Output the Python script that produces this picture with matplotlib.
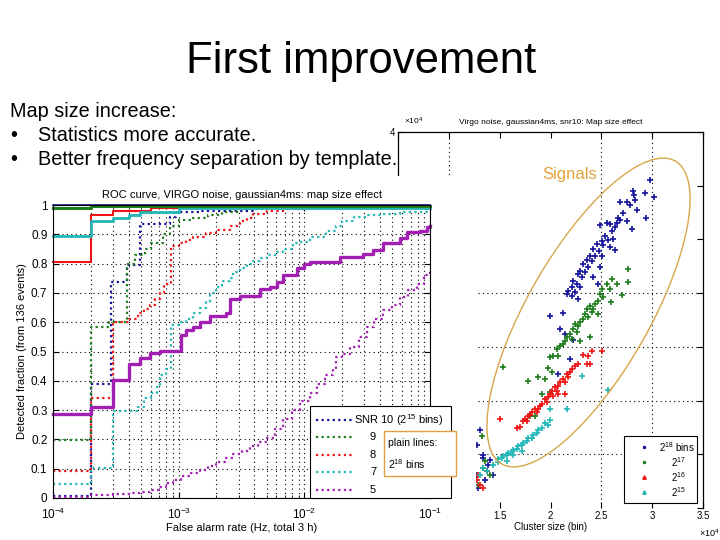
import numpy as np
import matplotlib
matplotlib.use('Agg')
import matplotlib.pyplot as plt
from matplotlib.lines import Line2D
from matplotlib.patches import Rectangle, Ellipse
from matplotlib.transforms import IdentityTransform
from matplotlib.ticker import FuncFormatter, LogLocator, NullFormatter

plt.rcParams['font.family'] = ['Liberation Sans', 'DejaVu Sans']
plt.rcParams['mathtext.fontset'] = 'custom'
plt.rcParams['mathtext.rm'] = 'Liberation Sans'
plt.rcParams['mathtext.it'] = 'Liberation Sans:italic'
plt.rcParams['mathtext.bf'] = 'Liberation Sans:bold'

# ---------------- ROC data (false alarm rate [Hz], detected fraction) -----------
roc_labels = ['SNR 10 (2$^{15}$ bins)', '9', '8', '7', '5']

far_10d = [1e-4, 2.0e-4, 2.9e-4, 3.9e-4, 4.9e-4, 8.5e-4, 9.5e-4, 1.5e-3, 4.0e-3, 1e-1]
det_10d = [0.006, 0.39, 0.737, 0.795, 0.935, 0.96, 0.975, 0.98, 1.0, 1.0]

far_9d = [1e-4, 2.0e-4, 2.8e-4, 3.9e-4, 4.5e-4, 5.4e-4, 6.0e-4, 7.5e-4, 8.5e-4, 1.0e-3,
          1.3e-3, 1.7e-3, 2.2e-3, 3.0e-3, 5.0e-3, 1e-1]
det_9d = [0.198, 0.583, 0.60, 0.80, 0.83, 0.85, 0.87, 0.90, 0.93, 0.95,
          0.955, 0.965, 0.975, 0.985, 0.995, 0.995]

far_8d = [1e-4, 2.0e-4, 3.0e-4, 4.0e-4, 4.75e-4, 5.3e-4, 5.9e-4, 6.5e-4, 7.1e-4, 7.7e-4,
          8.76e-4, 1.0e-3, 1.15e-3, 1.3e-3, 1.66e-3, 2.0e-3, 2.55e-3, 3.07e-3, 3.47e-3,
          3.91e-3, 5.0e-3, 6.79e-3, 1.0e-2, 2.0e-2, 1e-1]
det_8d = [0.091, 0.34, 0.60, 0.61, 0.63, 0.645, 0.66, 0.68, 0.70, 0.73,
          0.86, 0.87, 0.88, 0.89, 0.905, 0.915, 0.93, 0.945, 0.955,
          0.97, 0.98, 0.985, 0.99, 0.995, 0.995]

far_7d = [1e-4, 2e-4, 3e-4, 4.75e-4, 5.3e-4, 6.0e-4, 6.7e-4, 7.1e-4, 8.0e-4, 8.76e-4,
          1.05e-3, 1.15e-3, 1.3e-3, 1.47e-3, 1.66e-3, 1.77e-3, 2.0e-3, 2.2e-3, 2.55e-3, 2.71e-3,
          3.07e-3, 3.47e-3, 3.91e-3, 4.42e-3, 5.0e-3, 6.01e-3, 6.79e-3, 8.15e-3, 9.21e-3, 1.11e-2,
          1.5e-2, 1.8e-2, 2.0e-2, 2.5e-2, 3.13e-2, 4.25e-2, 5.77e-2, 1e-1]
det_7d = [0.048, 0.103, 0.297, 0.309, 0.34, 0.36, 0.38, 0.42, 0.44, 0.59,
          0.60, 0.61, 0.63, 0.65, 0.67, 0.70, 0.72, 0.74, 0.75, 0.77,
          0.785, 0.80, 0.81, 0.82, 0.83, 0.84, 0.85, 0.87, 0.875, 0.89,
          0.91, 0.93, 0.945, 0.96, 0.965, 0.97, 0.975, 0.975]

far_5d = [1e-4, 2e-4, 3e-4, 4e-4, 5e-4, 5.9e-4, 7e-4, 8e-4, 9e-4, 1.05e-3,
          1.25e-3, 1.47e-3, 1.7e-3, 2e-3, 2.35e-3, 2.71e-3, 3.2e-3, 3.68e-3, 4.3e-3, 5e-3,
          5.8e-3, 6.79e-3, 8e-3, 9.21e-3, 1.1e-2, 1.25e-2, 1.45e-2, 1.7e-2, 1.8e-2, 2e-2,
          2.31e-2, 2.7e-2, 3.13e-2, 3.6e-2, 4.25e-2, 5e-2, 5.77e-2, 6.7e-2, 7.83e-2, 9e-2, 1e-1]
det_5d = [0.005, 0.010, 0.012, 0.017, 0.022, 0.029, 0.036, 0.051, 0.06, 0.074,
          0.085, 0.097, 0.110, 0.123, 0.136, 0.149, 0.162, 0.177, 0.19, 0.206,
          0.235, 0.269, 0.30, 0.331, 0.36, 0.389, 0.42, 0.44, 0.48, 0.49,
          0.514, 0.55, 0.583, 0.61, 0.640, 0.66, 0.686, 0.71, 0.731, 0.76, 0.783]

far_10s = [1e-4, 1e-1]
det_10s = [1.0, 1.0]
far_9s = [1e-4, 2.0e-4, 1e-1]
det_9s = [0.991, 0.996, 0.996]
far_8s = [1e-4, 2.0e-4, 3.0e-4, 6.0e-4, 1e-1]
det_8s = [0.806, 0.965, 0.98, 0.99, 0.99]
far_7s = [1e-4, 2e-4, 3e-4, 4e-4, 4.9e-4, 1.0e-3, 1e-1]
det_7s = [0.895, 0.945, 0.955, 0.965, 0.975, 0.99, 0.99]
far_5s = [1e-4, 2.0e-4, 3.0e-4, 4.0e-4, 4.9e-4, 5.9e-4, 7.1e-4, 1.05e-3, 1.15e-3, 1.30e-3,
          1.47e-3, 1.77e-3, 2.40e-3, 2.55e-3, 3.07e-3, 4.16e-3, 4.42e-3, 5.32e-3, 6.01e-3, 6.79e-3,
          8.15e-3, 8.67e-3, 1.0e-2, 1.11e-2, 1.80e-2, 1.92e-2, 2.94e-2, 3.53e-2, 4.25e-2, 5.10e-2,
          5.77e-2, 6.52e-2, 8.32e-2, 9.40e-2, 1e-1]
det_5s = [0.288, 0.312, 0.403, 0.457, 0.477, 0.494, 0.503, 0.558, 0.575, 0.585,
          0.600, 0.620, 0.630, 0.680, 0.690, 0.690, 0.714, 0.720, 0.737, 0.760,
          0.760, 0.786, 0.800, 0.806, 0.806, 0.823, 0.834, 0.848, 0.869, 0.869,
          0.886, 0.909, 0.912, 0.926, 0.930]

roc_yticks = [0, 0.1, 0.2, 0.3, 0.4, 0.5, 0.6, 0.7, 0.8, 0.9, 1.0]

# ---------------- Scatter data (units of 1e4 bins) --------------------------
sc_labels = ['2$^{18}$ bins', '2$^{17}$', '2$^{16}$', '2$^{15}$']
blue_x = [2.978, 2.929, 3.017, 2.811, 2.821, 2.683, 2.752, 2.781, 2.830, 2.712,
          2.850, 2.939, 2.663, 2.683, 2.752, 2.653, 2.801, 2.585, 2.555, 2.486,
          2.634, 2.604, 2.535, 2.565, 2.506, 2.614, 2.457, 2.516, 2.585, 2.634,
          2.417, 2.476, 2.388, 2.437, 2.506, 2.358, 2.408, 2.319, 2.486, 2.368,
          2.290, 2.339, 2.270, 2.309, 2.417, 2.221, 2.260, 2.211, 2.290, 2.172,
          2.240, 2.162, 2.211, 2.270, 2.467, 1.995, 2.122, 2.093, 2.142, 2.221,
          2.073, 2.191, 1.306, 1.277, 1.336, 1.336, 1.385, 1.277, 1.405, 1.434,
          1.287, 1.355]
blue_y = [3.556, 3.435, 3.398, 3.454, 3.417, 3.352, 3.352, 3.324, 3.370, 3.250,
          3.278, 3.204, 3.204, 3.185, 3.176, 3.157, 3.093, 3.139, 3.157, 3.130,
          3.120, 3.074, 3.028, 2.991, 2.981, 3.000, 2.954, 2.944, 2.926, 2.898,
          2.907, 2.889, 2.843, 2.843, 2.843, 2.806, 2.796, 2.769, 2.741, 2.741,
          2.704, 2.694, 2.676, 2.648, 2.648, 2.611, 2.583, 2.556, 2.556, 2.519,
          2.509, 2.491, 2.472, 2.444, 2.583, 2.287, 2.315, 2.167, 2.120, 2.065,
          1.750, 1.889, 1.222, 1.083, 0.991, 0.963, 0.898, 0.806, 0.944, 0.806,
          0.685, 0.759]
green_x = [2.762, 2.762, 2.604, 2.555, 2.653, 2.585, 2.703, 2.506, 2.486, 2.516,
           2.467, 2.594, 2.437, 2.388, 2.417, 2.358, 2.408, 2.339, 2.368, 2.319,
           2.467, 2.290, 2.270, 2.240, 2.221, 2.260, 2.191, 2.162, 2.211, 2.142,
           2.388, 2.290, 2.122, 2.093, 2.063, 2.024, 1.995, 2.073, 1.975, 2.014,
           1.945, 1.877, 1.778, 1.532, 1.916, 1.995, 1.847, 1.798, 1.326, 1.355,
           1.405, 1.287, 1.336]
green_y = [2.722, 2.602, 2.630, 2.583, 2.583, 2.537, 2.481, 2.537, 2.491, 2.463,
           2.426, 2.417, 2.398, 2.380, 2.352, 2.352, 2.324, 2.306, 2.278, 2.259,
           2.306, 2.231, 2.194, 2.213, 2.167, 2.139, 2.120, 2.093, 2.074, 2.056,
           2.093, 2.056, 2.028, 2.009, 1.981, 1.917, 1.907, 1.917, 1.806, 1.769,
           1.704, 1.722, 1.685, 1.815, 1.565, 1.583, 1.352, 1.361, 1.167, 0.935,
           0.806, 0.713, 0.870]
red_x = [2.506, 2.408, 2.368, 2.319, 2.388, 2.358, 2.270, 2.240, 2.211, 2.191,
         2.162, 2.172, 2.122, 2.142, 2.093, 2.073, 2.044, 2.063, 2.014, 1.995,
         2.024, 1.975, 1.945, 1.965, 1.916, 1.896, 1.877, 1.847, 1.867, 1.818,
         1.798, 1.778, 1.749, 1.729, 1.768, 1.700, 2.142, 2.073, 1.503, 1.670,
         1.287, 1.306, 1.336, 1.277, 1.375]
red_y = [1.963, 1.963, 1.917, 1.926, 1.843, 1.843, 1.843, 1.824, 1.796, 1.769,
         1.750, 1.722, 1.704, 1.676, 1.676, 1.639, 1.630, 1.593, 1.593, 1.565,
         1.546, 1.537, 1.519, 1.491, 1.472, 1.454, 1.426, 1.426, 1.398, 1.398,
         1.370, 1.352, 1.333, 1.306, 1.306, 1.250, 1.565, 1.565, 1.333, 1.241,
         0.806, 0.713, 0.685, 0.759, 0.843]
cyan_x = [1.995, 1.975, 1.945, 1.916, 1.877, 1.867, 1.827, 1.818, 1.778, 1.768,
          1.729, 1.719, 1.680, 1.670, 1.631, 1.621, 1.582, 1.572, 1.532, 1.523,
          1.483, 1.483, 1.572, 1.631, 1.719, 2.162, 2.309, 2.565, 1.995, 1.336,
          1.306, 1.375, 1.434]
cyan_y = [1.315, 1.269, 1.287, 1.241, 1.222, 1.194, 1.176, 1.148, 1.148, 1.120,
          1.102, 1.083, 1.074, 1.046, 1.037, 1.019, 1.009, 0.991, 0.981, 0.963,
          0.954, 0.926, 0.935, 0.991, 1.028, 1.426, 1.731, 1.602, 1.426, 0.870,
          0.806, 0.843, 0.898]
sc_ticks = [0.5, 1.0, 1.5, 2.0, 2.5, 3.0, 3.5]
sc_yticks = [0.5, 1.0, 1.5, 2.0, 2.5, 3.0, 3.5, 4.0]
sc_xtick_labels = ['', '', '1.5', '2', '2.5', '3', '3.5']   # left ones hidden in picture
sc_ytick_labels = ['', '', '', '', '', '', '', '4']          # only top one visible

# ---------------- styling ----------------------------------------------------
NAVY = '#14149c'
GREEN = '#1d7d1d'
RED = '#f01414'
CYAN = '#22b6b6'
PURPLE = '#a21fb2'
ORANGE = '#E3A33C'
roc_colors = [NAVY, GREEN, RED, CYAN, PURPLE]

W, H = 720, 540
def fx(x):
    return x / W
def fy(y):
    return 1 - y / H

fig = plt.figure(figsize=(7.2, 5.4), dpi=100)
fig.patch.set_facecolor('white')
DOT = (0, (1, 3))
fmt = FuncFormatter(lambda v, p: '%g' % v)

# ---------------- scatter axes (behind) --------------------------------------
axs = fig.add_axes([fx(398), fy(508), fx(703) - fx(398), fy(132) - fy(508)])
axs.set_zorder(0)
ms, mew = 4.0, 1.2
axs.plot(blue_x, blue_y, '+', color=NAVY, ms=ms, mew=mew, ls='none')
axs.plot(green_x, green_y, '+', color=GREEN, ms=ms, mew=mew, ls='none')
axs.plot(red_x, red_y, '+', color=RED, ms=ms, mew=mew, ls='none')
axs.plot(cyan_x, cyan_y, '+', color=CYAN, ms=ms, mew=mew, ls='none')
axs.set_xlim(0.5, 3.5)
axs.set_ylim(0.5, 4.0)
axs.set_xticks(sc_ticks)
axs.set_xticklabels(sc_xtick_labels)
axs.set_yticks(sc_yticks)
axs.set_yticklabels(sc_ytick_labels)
axs.tick_params(direction='in', top=True, right=True, labelsize=7, length=4, pad=2,
                width=0.8)
axs.spines['bottom'].set_visible(False)
for s in ['top', 'left', 'right']:
    axs.spines[s].set_linewidth(0.9)
for gy in [1.0, 1.5, 2.0, 2.5]:
    axs.axhline(gy, color='k', ls=DOT, lw=0.8, zorder=0.5)
for gx in [1.0, 2.5, 3.0]:
    axs.axvline(gx, color='k', ls=DOT, lw=0.8, zorder=0.5)
axs.set_title('Virgo noise, gaussian4ms, snr10: Map size effect', fontsize=6, pad=6)
axs.set_xlabel('Cluster size (bin)', fontsize=7, labelpad=1)
fig.text(fx(404), fy(121), '×10$^{4}$', fontsize=6, ha='left', va='center')
fig.text(fx(709), fy(533), '×10$^{4}$', fontsize=6.5, ha='center', va='center')

# white area of the ROC picture covering the scatter's left part
fig.add_artist(Rectangle((0, 0), fx(476), fy(176), transform=fig.transFigure,
                         facecolor='white', edgecolor='none', zorder=1))

# scatter legend
fig.add_artist(Rectangle((fx(624), fy(503)), fx(697) - fx(624), fy(436) - fy(503),
                         transform=fig.transFigure, facecolor='white', edgecolor='black',
                         lw=0.8, zorder=3))
sc_leg_rows = [447, 462, 477, 492]
sc_leg_cols = [NAVY, GREEN, RED, CYAN]
sc_leg_mk = ['.', '.', '^', '^']
sc_leg_ms = [3, 3, 2.5, 2.5]
for i, (lab, yy) in enumerate(zip(sc_labels, sc_leg_rows)):
    fig.add_artist(Line2D([fx(644)], [fy(yy)], transform=fig.transFigure, marker=sc_leg_mk[i],
                          color=sc_leg_cols[i], ms=sc_leg_ms[i], ls='none', zorder=4))
    fig.text(fx(659 if i == 0 else 671), fy(yy), lab, fontsize=7, ha='left',
             va='center', zorder=5)

# ellipse and "Signals"
fig.add_artist(Ellipse((588.5, H - 312.5), 349, 122, angle=60.2,
                       transform=IdentityTransform(), facecolor='none',
                       edgecolor='#D9A54A', lw=1.0, zorder=4))
fig.text(fx(570), fy(175), 'Signals', fontsize=12, color=ORANGE, ha='center',
         va='center', zorder=5)

# ---------------- ROC axes ---------------------------------------------------
ax = fig.add_axes([fx(53), fy(498), fx(430) - fx(53), fy(205) - fy(498)])
ax.set_zorder(2)
ax.set_facecolor('white')
dotted_sets = [(far_10d, det_10d), (far_9d, det_9d), (far_8d, det_8d),
               (far_7d, det_7d), (far_5d, det_5d)]
for (xs, ys), c in zip(dotted_sets, roc_colors):
    ax.plot(xs, ys, color=c, ls=(0, (1, 1.5)), lw=1.6, drawstyle='steps-post')
solid_sets = [(far_10s, det_10s, 1.2, NAVY), (far_8s, det_8s, 1.5, RED),
              (far_7s, det_7s, 2.0, CYAN), (far_9s, det_9s, 2.2, GREEN),
              (far_5s, det_5s, 2.4, PURPLE)]
for xs, ys, lw, c in solid_sets:
    ax.plot(xs, ys, color=c, lw=lw, drawstyle='steps-post', clip_on=False)
ax.set_xscale('log')
ax.set_xlim(1e-4, 1e-1)
ax.set_ylim(0, 1)
ax.set_yticks(roc_yticks)
ax.yaxis.set_major_formatter(fmt)
ax.xaxis.set_major_locator(LogLocator(base=10, numticks=10))
ax.xaxis.set_minor_locator(LogLocator(base=10, subs=np.arange(2, 10), numticks=20))
ax.xaxis.set_minor_formatter(NullFormatter())
ax.tick_params(which='both', direction='in', top=True, right=True, labelsize=8.5)
ax.tick_params(which='major', length=4)
ax.tick_params(which='minor', length=2)
ax.tick_params(axis='x', which='major', pad=6)
ax.tick_params(axis='y', which='major', pad=4)
ax.grid(True, which='major', ls=DOT, color='k', lw=0.8)
ax.grid(True, which='minor', axis='x', ls=DOT, color='k', lw=0.8)
ax.set_axisbelow(True)
ax.set_title('ROC curve, VIRGO noise, gaussian4ms: map size effect', fontsize=8, pad=5)
ax.set_xlabel('False alarm rate (Hz, total 3 h)', fontsize=8, labelpad=1)
ax.set_ylabel('Detected fraction (from 136 events)', fontsize=8, labelpad=3)

# ROC legend
fig.add_artist(Rectangle((fx(310), fy(498)), fx(451) - fx(310), fy(406) - fy(498),
                         transform=fig.transFigure, facecolor='white', edgecolor='black',
                         lw=0.8, zorder=3))
roc_leg_rows = [420, 437, 455, 472, 490]
for i, (lab, yy, c) in enumerate(zip(roc_labels, roc_leg_rows, roc_colors)):
    fig.add_artist(Line2D([fx(316), fx(352)], [fy(yy), fy(yy)], transform=fig.transFigure,
                          color=c, ls=(0, (1, 1.5)), lw=1.6, zorder=4))
    if i == 0:
        fig.text(fx(354), fy(yy), lab, fontsize=8, ha='left', va='center', zorder=5)
    else:
        fig.text(fx(373), fy(yy), lab, fontsize=8, ha='center', va='center', zorder=5)

fig.add_artist(Rectangle((fx(384), fy(476)), fx(456) - fx(384), fy(431) - fy(476),
                         transform=fig.transFigure, facecolor='white', edgecolor='#E0A040',
                         lw=1.0, zorder=6))
fig.text(fx(388), fy(446), 'plain lines:', fontsize=7.5, ha='left', va='baseline', zorder=7)
fig.text(fx(388), fy(469), '2$^{18}$ bins', fontsize=7.5, ha='left', va='baseline', zorder=7)

# ---------------- slide text -------------------------------------------------
fig.text(fx(361), fy(73), 'First improvement', fontsize=31.5, ha='center',
         va='baseline', zorder=8)
fig.text(fx(10), fy(117), 'Map size increase:', fontsize=14.3, ha='left',
         va='baseline', zorder=8)
for yy, s in [(141, 'Statistics more accurate.'),
              (165, 'Better frequency separation by template.')]:
    fig.text(fx(10), fy(yy), '•', fontsize=14.3, ha='left', va='baseline', zorder=8)
    fig.text(fx(38), fy(yy), s, fontsize=14.3, ha='left', va='baseline', zorder=8)

fig.savefig('out.png', dpi=100, facecolor='white')
